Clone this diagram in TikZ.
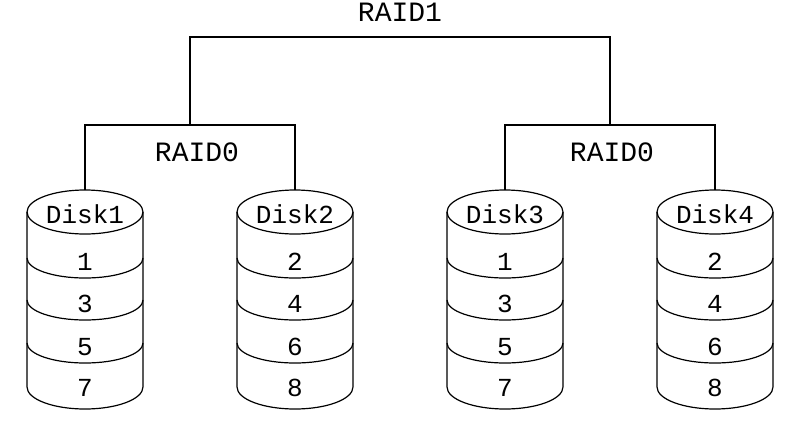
\documentclass[tikz,border=0pt]{standalone}
\usepackage{fontspec}
\setmonofont{Liberation Mono}
\newcommand{\mydisk}[6]{%
  \begin{scope}[shift={(#1,0)}]
  \draw (0,212) ellipse [x radius=58, y radius=22];
  \draw (-58,212) -- (-58,387) arc[start angle=180,end angle=0,x radius=58,y radius=22] -- (58,212);
  \foreach \yy in {258,300,343}{\draw (-58,\yy) arc[start angle=180,end angle=0,x radius=58,y radius=20];}
  \node[lbl] (#6) at (0,214) {#2};
  \node[lbl] at (0,262) {#3};
  \node[lbl] at (0,304) {#4};
  \node[lbl] at (0,347) {#5};
  \coordinate (#6t) at (0,190);
  \end{scope}}
\begin{document}
\begin{tikzpicture}[x=1pt,y=-1pt,line width=1.2pt,
  lbl/.style={font=\ttfamily\fontsize{26}{26}\selectfont,inner sep=0pt},
  rlbl/.style={font=\ttfamily\fontsize{28}{28}\selectfont,inner sep=0pt}]
\useasboundingbox (0,0) rectangle (793,426);
\mydisk{85}{Disk1}{1}{3}{5}{d1}
\node[lbl] at (85,388) {7};
\mydisk{295}{Disk2}{2}{4}{6}{d2}
\node[lbl] at (295,388) {8};
\mydisk{505}{Disk3}{1}{3}{5}{d3}
\node[lbl] at (505,388) {7};
\mydisk{715}{Disk4}{2}{4}{6}{d4}
\node[lbl] at (715,388) {8};
\node[rlbl] (r1) at (400,12) {RAID1};
\node[rlbl] (ra) at (197,152) {RAID0};
\node[rlbl] (rb) at (612,152) {RAID0};
\coordinate (a) at (190,125);
\coordinate (b) at (610,125);
\draw (d1t) |- (a) -| (d2t);
\draw (d3t) |- (b) -| (d4t);
\draw (a) |- (400,37) -| (b);
\end{tikzpicture}
\end{document}
